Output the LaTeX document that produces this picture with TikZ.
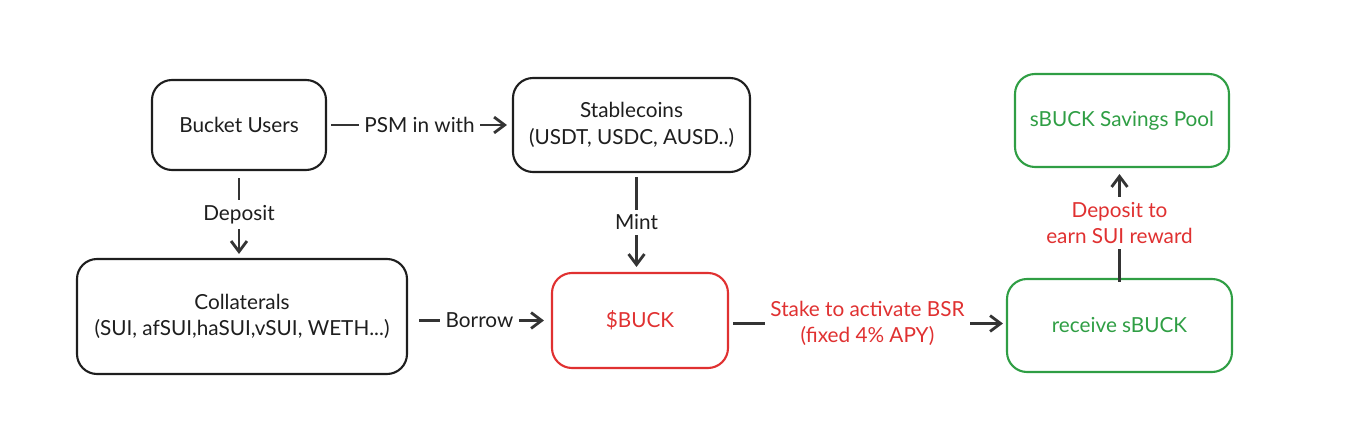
\documentclass[tikz,border=0pt]{standalone}
\usepackage{fontspec}
\setmainfont{Lato}
\usetikzlibrary{arrows.meta}
\definecolor{ink}{HTML}{1E1E1E}
\definecolor{wire}{HTML}{343434}
\definecolor{bred}{HTML}{E03131}
\definecolor{bgreen}{HTML}{2F9E44}

\begin{document}
\begin{tikzpicture}[
  font=\fontsize{11.8}{15.2}\selectfont,
  box/.style={draw=ink, line width=1.2pt, rounded corners=0.4cm, align=center, text=ink},
  link/.style={draw=wire, line width=1.6pt, -{Straight Barb[length=6pt,width=9pt]}},
  tag/.style={midway, fill=white, inner sep=3pt, text=ink, align=center}
]
\useasboundingbox (0,0) rectangle (27.16,-8.76);

\node[box, minimum width=3.48cm, minimum height=1.80cm] (users) at (4.78,-2.50) {Bucket Users};
\node[box, minimum width=4.74cm, minimum height=1.88cm] (stable) at (12.63,-2.50) {Stablecoins\\(USDT, USDC, AUSD..)};
\node[box, minimum width=6.60cm, minimum height=2.30cm] (coll) at (4.84,-6.33) {Collaterals\\(SUI, afSUI,haSUI,vSUI, WETH...)};
\node[box, draw=bred, text=bred, minimum width=3.52cm, minimum height=1.90cm] (buck) at (12.80,-6.41) {\$BUCK};
\node[box, draw=bgreen, text=bgreen, minimum width=4.50cm, minimum height=1.86cm] (recv) at (22.39,-6.51) {receive sBUCK};
\node[box, draw=bgreen, text=bgreen, minimum width=4.28cm, minimum height=1.86cm] (pool) at (22.44,-2.41) {sBUCK Savings Pool};

\draw[link, shorten <=0.08cm, shorten >=0.1cm] (users) -- (stable) node[tag] {PSM in with};
\draw[link, shorten <=0.14cm, shorten >=0.08cm] (users.south) -- (users.south |- coll.north) node[tag] {Deposit};
\draw[link, shorten <=0.08cm, shorten >=0.1cm] ([xshift=0.1cm]stable.south) -- ([xshift=0.1cm]stable.south |- buck.north) node[tag] {Mint};
\draw[link, shorten <=0.22cm, shorten >=0.14cm] (coll.east |- buck.west) -- (buck.west) node[tag] {Borrow};
\draw[link, shorten <=0.08cm, shorten >=0.06cm] ([yshift=-0.06cm]buck.east) -- ([yshift=-0.06cm]buck.east -| recv.west) node[tag, text=bred] {Stake to activate BSR\\(fixed 4\% APY)};
\draw[link, shorten <=-0.08cm, shorten >=0.12cm] (recv.north) -- (recv.north |- pool.south) node[tag, text=bred] {Deposit to\\earn SUI reward};
\end{tikzpicture}
\end{document}
